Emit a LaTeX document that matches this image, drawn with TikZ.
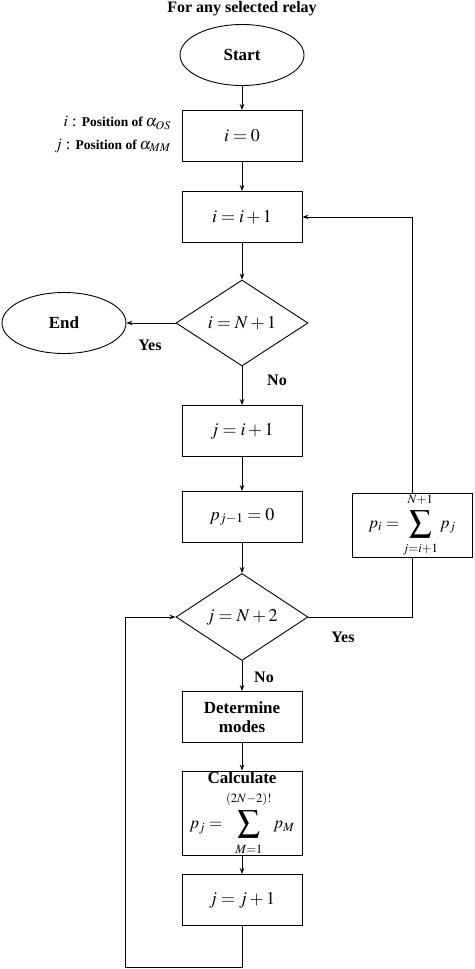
\documentclass[tikz,border=0pt]{standalone}
\usepackage{mathptmx}
\usepackage{graphicx}
\usepackage{fontspec}
\setmainfont{Liberation Serif}
\usetikzlibrary{shapes.geometric,arrows.meta}
\newcommand{\BigSum}{\mathop{\vcenter{\hbox{\raisebox{0pt}[\dimexpr\height+3.5pt\relax][\dimexpr\depth+3.5pt\relax]{\scalebox{1.3}{$\displaystyle\sum$}}}}}\limits}
\tikzset{
  box/.style={draw, line width=0.9pt, minimum width=120pt, minimum height=51pt, inner sep=0pt, font=\fontsize{18}{20}\selectfont},
  oval/.style={draw, ellipse, line width=0.9pt, minimum width=124pt, minimum height=61pt, inner sep=0pt, font=\bfseries\fontsize{17}{20}\selectfont},
  dec/.style={draw, diamond, line width=0.9pt, minimum width=132pt, minimum height=86pt, inner sep=0pt, font=\fontsize{18}{20}\selectfont},
  lbl/.style={font=\bfseries\fontsize{16}{18}\selectfont},
  note/.style={anchor=east, inner sep=0pt, font=\fontsize{16}{18}\selectfont},
  conn/.style={line width=0.9pt, -{Stealth[length=6pt,width=4.5pt]}},
  plain/.style={line width=0.9pt},
}
\begin{document}
\begin{tikzpicture}[x=1pt,y=-1pt]
\useasboundingbox (0,0) rectangle (474,969);
\node[lbl] (title) at (242,9) {For any selected relay};
\node[oval] (start) at (242,55) {Start};
\node[box] (b0) at (242,136) {$i=0$};
\node[note] (n1) at (171,123) {$i$ : {\bfseries\fontsize{13.5}{16}\selectfont Position of}\,$\alpha_{OS}$};
\node[note] (n2) at (171,146) {$j$ : {\bfseries\fontsize{13.5}{16}\selectfont Position of}\,$\alpha_{MM}$};
\node[box] (b1) at (242,217) {$i=i+1$};
\node[dec] (d1) at (242,323) {$i=N+1$};
\node[oval] (endn) at (64,323) {End};
\node[lbl] (yes1) at (150,345) {Yes};
\node[lbl] (no1) at (277,380) {No};
\node[box] (b2) at (242,431) {$j=i+1$};
\node[box] (b3) at (242,517) {$p_{j-1}=0$};
\node[box, minimum height=64pt, font=\fontsize{17}{19}\selectfont] (sumb) at (412,525) {$\displaystyle p_i=\BigSum_{j=i+1}^{N+1}p_j$};
\node[dec] (d2) at (242,617) {$j=N+2$};
\node[lbl] (yes2) at (343,637) {Yes};
\node[lbl] (no2) at (264,677) {No};
\node[box, align=center, font=\bfseries\fontsize{17}{19}\selectfont] (b4) at (242,717) {Determine\\modes};
\node[box, minimum height=84pt, align=center, font=\fontsize{17}{19}\selectfont] (b5) at (242,813) {\textbf{Calculate}\\[7pt]$\displaystyle p_j=\BigSum_{M=1}^{(2N-2)!}p_M$};
\node[box] (b6) at (242,900) {$j=j+1$};
\coordinate (l1) at (242,967);
\coordinate (l2) at (125,967);
\coordinate (l3) at (125,617);
\draw[conn] (start) -- (b0);
\draw[conn] (b0) -- (b1);
\draw[conn] (b1) -- (d1);
\draw[conn] (d1.west) -- (endn.east);
\draw[conn] (d1.south) -- (b2.north);
\draw[conn] (b2) -- (b3);
\draw[conn] (b3.south) -- (d2.north);
\draw[conn] (d2.south) -- (b4.north);
\draw[conn] (b4) -- (b5);
\draw[conn] (b5) -- (b6);
\draw[conn] (b6.south) -- (l1) -- (l2) -- (l3) -- (d2.west);
\draw[plain] (d2.east) -| (sumb.south);
\draw[conn] (sumb.north) |- (b1.east);
\end{tikzpicture}
\end{document}
